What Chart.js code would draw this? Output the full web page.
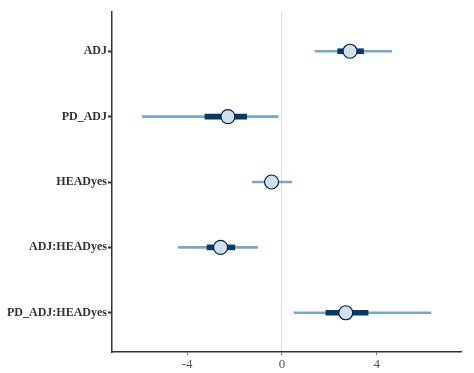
<!DOCTYPE html>
<html lang="en">

<head>
  <meta charset="UTF-8">
  <title>Intervals</title>
  <script src="https://cdn.jsdelivr.net/npm/chart.js"></script>
  <style>
    body {
      margin: 0;
      background: #fff;
    }

    #wrap {
      width: 474px;
      height: 373px;
    }
  </style>
</head>

<body>
  <div id="wrap">
    <canvas id="chart" width="474" height="373"></canvas>
  </div>

  <script>
    const params = ["ADJ", "PD_ADJ", "HEADyes", "ADJ:HEADyes", "PD_ADJ:HEADyes"];
    const outerLow = [1.39, -5.89, -1.25, -4.38, 0.51];
    const outerHigh = [4.63, -0.16, 0.41, -1.03, 6.28];
    const innerLow = [2.35, -3.25, -0.7, -3.16, 1.85];
    const innerHigh = [3.44, -1.49, -0.2, -1.99, 3.63];
    const medians = [2.87, -2.28, -0.44, -2.59, 2.69];
    const xTicks = [-4, 0, 4];

    const outerData = params.map((p, i) => ({ y: i, x: [outerLow[i], outerHigh[i]] }));
    const innerData = params.map((p, i) => ({ y: i, x: [innerLow[i], innerHigh[i]] }));
    const pointData = params.map((p, i) => ({ y: i, x: medians[i] }));

    const ctx = document.getElementById("chart").getContext("2d");
    new Chart(ctx, {
      type: "bar",
      data: {
        datasets: [
          {
            label: "outer",
            data: outerData,
            backgroundColor: "#7aa6c2",
            barThickness: 2,
            grouped: false,
            order: 3
          },
          {
            label: "inner",
            data: innerData,
            backgroundColor: "#03396c",
            barThickness: 5,
            grouped: false,
            order: 2
          },
          {
            type: "scatter",
            label: "median",
            data: pointData,
            pointRadius: 7,
            pointBackgroundColor: "#d1e1ec",
            pointBorderColor: "#011f4b",
            pointBorderWidth: 1.2,
            order: 1
          }
        ]
      },
      options: {
        indexAxis: "y",
        animation: false,
        responsive: false,
        maintainAspectRatio: false,
        layout: {
          padding: { top: 12, right: 13, left: 0, bottom: 0 }
        },
        scales: {
          x: {
            type: "linear",
            min: -7.17,
            max: 7.55,
            afterBuildTicks: s => { s.ticks = xTicks.map(v => ({ value: v })); },
            afterFit: s => { s.height = 21; },
            border: { display: true, color: "#333", width: 1.5 },
            grid: {
              color: c => (c.tick && c.tick.value === 0 ? "#dcdcdc" : "rgba(0,0,0,0)"),
              lineWidth: 1,
              tickColor: "#777",
              tickLength: 3
            },
            ticks: {
              color: "#555",
              padding: 2,
              font: { family: "Liberation Serif", size: 13 }
            }
          },
          y: {
            type: "linear",
            reverse: true,
            offset: false,
            min: -0.6,
            max: 4.6,
            afterBuildTicks: s => { s.ticks = params.map((p, i) => ({ value: i })); },
            afterFit: s => { s.width = 112; },
            border: { display: true, color: "#333", width: 1.5 },
            grid: {
              offset: false,
              drawOnChartArea: false,
              tickColor: "#333",
              tickWidth: 2,
              tickLength: 4
            },
            ticks: {
              color: "#333",
              padding: 1,
              callback: v => params[v],
              font: { family: "Liberation Serif", size: 12, weight: "bold" }
            }
          }
        },
        plugins: {
          legend: { display: false },
          tooltip: { enabled: false }
        }
      }
    });
  </script>
</body>

</html>
